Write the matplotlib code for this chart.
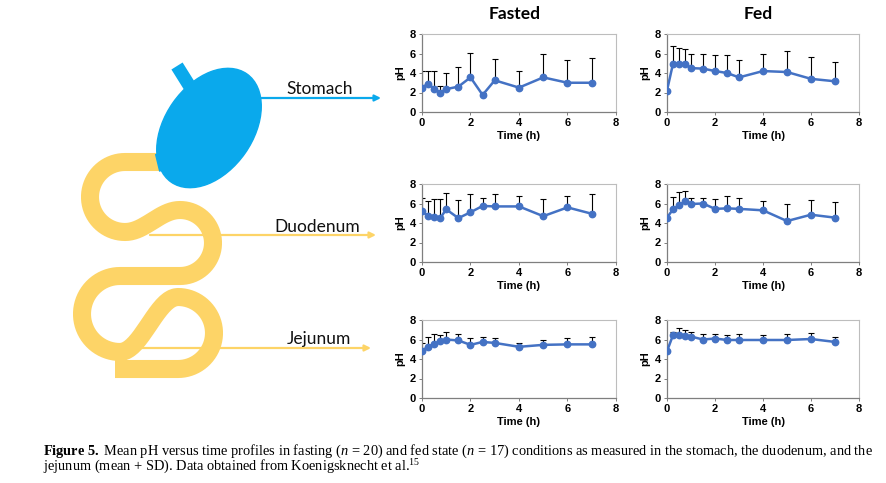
import numpy as np
import matplotlib
matplotlib.use("Agg")
import matplotlib.pyplot as plt
from matplotlib.patches import Ellipse

# sampling times (h)
times = [0, 0.25, 0.5, 0.75, 1, 1.5, 2, 2.5, 3, 4, 5, 6, 7]

# mean pH and SD (upper bar only)
fasted_stomach = [2.5, 2.9, 2.4, 2.0, 2.35, 2.6, 3.55, 1.75, 3.25, 2.5, 3.55, 3.0, 3.0]
fasted_stomach_sd = [1.7, 1.3, 1.8, 0.7, 1.6, 2.05, 2.55, 0.15, 2.15, 1.7, 2.35, 2.3, 2.5]
fed_stomach = [2.2, 4.95, 4.95, 4.95, 4.5, 4.45, 4.2, 4.0, 3.55, 4.2, 4.1, 3.4, 3.15]
fed_stomach_sd = [0, 1.85, 1.65, 1.5, 1.5, 1.5, 1.6, 1.8, 1.75, 1.7, 2.15, 2.2, 2.0]

fasted_duodenum = [5.2, 4.75, 4.65, 4.5, 5.4, 4.5, 5.1, 5.75, 5.7, 5.7, 4.7, 5.6, 4.95]
fasted_duodenum_sd = [1.35, 1.55, 1.8, 1.95, 1.7, 1.85, 1.9, 0.85, 1.3, 1.1, 1.75, 1.2, 2.05]
fed_duodenum = [4.55, 5.4, 5.8, 6.25, 5.95, 6.0, 5.45, 5.5, 5.45, 5.3, 4.2, 4.85, 4.55]
fed_duodenum_sd = [0, 1.3, 1.35, 1.05, 0.65, 0.6, 1.0, 1.25, 1.15, 0.95, 1.75, 1.5, 1.65]

fasted_jejunum = [4.85, 5.25, 5.55, 5.8, 6.0, 5.9, 5.45, 5.75, 5.65, 5.25, 5.45, 5.5, 5.5]
fasted_jejunum_sd = [0.8, 1.05, 1.05, 0.7, 0.8, 0.65, 0.7, 0.5, 0.5, 0.4, 0.45, 0.65, 0.8]
fed_jejunum = [4.8, 6.45, 6.45, 6.35, 6.3, 6.0, 6.1, 5.95, 5.95, 5.95, 5.95, 6.05, 5.75]
fed_jejunum_sd = [0, 0.3, 0.75, 0.6, 0.45, 0.6, 0.5, 0.5, 0.65, 0.5, 0.65, 0.65, 0.55]

segments = ["Stomach", "Duodenum", "Jejunum"]
columns = ["Fasted", "Fed"]
panels = [
    [(fasted_stomach, fasted_stomach_sd), (fed_stomach, fed_stomach_sd)],
    [(fasted_duodenum, fasted_duodenum_sd), (fed_duodenum, fed_duodenum_sd)],
    [(fasted_jejunum, fasted_jejunum_sd), (fed_jejunum, fed_jejunum_sd)],
]

W, H = 887, 483
fig = plt.figure(figsize=(W / 100, H / 100), dpi=100)

BLUE = "#0aa9ec"
YELLOW = "#fdd467"
LINE = "#4472c4"

# ---- illustration (pixel coordinates, y pointing down) ----
art = fig.add_axes([0, 0, 1, 1])
art.set_xlim(0, W)
art.set_ylim(H, 0)
art.axis("off")


def arc(cx, cy, r, a0, a1, n=40):
    t = np.radians(np.linspace(a0, a1, n))
    return np.c_[cx + r * np.cos(t), cy + r * np.sin(t)]


def s_bend(p0, p1, n=20):
    s = np.linspace(0, 1, n)
    k = (1 - np.cos(np.pi * s)) / 2
    return np.c_[p0[0] + (p1[0] - p0[0]) * s, p0[1] + (p1[1] - p0[1]) * k]


gut = np.vstack([
    [[160, 162]],
    arc(125, 197, 35, -90, -270),
    s_bend((125, 232), (180, 210)),
    arc(180, 243, 33, -90, 90),
    arc(120, 314, 38, -90, -270),
    s_bend((120, 352), (178, 297)),
    arc(178, 333, 36, -90, 90),
    [[115, 369]],
])
art.plot(gut[:, 0], gut[:, 1], color=YELLOW, lw=13, solid_capstyle="butt",
         solid_joinstyle="round", zorder=1)

art.add_patch(Ellipse((209, 128), 132, 88, angle=-55, color=BLUE, zorder=3))
art.plot([157, 186], [163, 156], color=BLUE, lw=13, solid_capstyle="butt", zorder=2)
art.plot([177, 197], [66, 98], color=BLUE, lw=9.5, solid_capstyle="butt", zorder=2)

arrows = [(BLUE, 257, 98, 381), (YELLOW, 150, 235, 376), (YELLOW, 127, 348, 371)]
for col, x0, y, x1 in arrows:
    art.annotate("", xy=(x1, y), xytext=(x0, y),
                 arrowprops=dict(arrowstyle="-|>", color=col, lw=1.6,
                                 mutation_scale=9, shrinkA=0, shrinkB=0),
                 zorder=4)

label_pos = [(320, 89), (317, 227), (319, 339)]
for name, (x, y) in zip(segments, label_pos):
    art.text(x, y, name, ha="center", va="center", fontsize=12.5,
             family="Lato", color="#111111", zorder=5)

# ---- column titles ----
for name, x in zip(columns, [515, 758]):
    fig.text(x / W, 1 - 14 / H, name, ha="center", va="center", fontsize=12.5,
             family="Lato", fontweight="bold")

# ---- pH panels ----
col_left = [422, 667]
col_width = [194, 192]
row_top = [34, 184, 320]
panel_h = 78

for r, row in enumerate(panels):
    for c, (mean, sd) in enumerate(row):
        ax = fig.add_axes([col_left[c] / W, 1 - (row_top[r] + panel_h) / H,
                           col_width[c] / W, panel_h / H])
        ax.errorbar(times, mean, yerr=[np.zeros(len(sd)), sd], fmt="none",
                    ecolor="black", elinewidth=0.8, capsize=2.5, capthick=0.8,
                    zorder=2)
        ax.plot(times, mean, color=LINE, lw=1.8, marker="o", markersize=4.6,
                zorder=3)
        ax.set_xlim(0, 8)
        ax.set_ylim(0, 8)
        ax.set_xticks([0, 2, 4, 6, 8])
        ax.set_yticks([0, 2, 4, 6, 8])
        for side in ["top", "right"]:
            ax.spines[side].set_color("#bdbdbd")
            ax.spines[side].set_linewidth(0.8)
        for side in ["left", "bottom"]:
            ax.spines[side].set_color("#7f7f7f")
            ax.spines[side].set_linewidth(0.9)
        ax.tick_params(length=2.5, width=0.7, color="#7f7f7f", pad=2,
                       labelsize=8)
        for lab in ax.get_xticklabels() + ax.get_yticklabels():
            lab.set_fontweight("bold")
            lab.set_family("Liberation Sans")
        ax.set_xlabel("Time (h)", fontsize=8, fontweight="bold",
                      family="Liberation Sans", labelpad=2)
        ax.set_ylabel("pH", fontsize=8, fontweight="bold",
                      family="Liberation Sans", labelpad=3)

# ---- caption ----
plt.rcParams["mathtext.fontset"] = "custom"
plt.rcParams["mathtext.rm"] = "Liberation Serif"
plt.rcParams["mathtext.it"] = "Liberation Serif:italic"
plt.rcParams["mathtext.bf"] = "Liberation Serif:bold"

line1 = (r"$\mathbf{Figure\ 5.}$ Mean pH versus time profiles in fasting ($\it{n}$ = 20) "
         r"and fed state ($\it{n}$ = 17) conditions as measured in the stomach, "
         r"the duodenum, and the")
line2 = r"jejunum (mean + SD). Data obtained from Koenigsknecht et al.$^{15}$"
t1 = fig.text(43 / W, 1 - 451 / H, line1, ha="left", va="center", fontsize=9,
              family="Liberation Serif")
t2 = fig.text(43 / W, 1 - 467 / H, line2, ha="left", va="center", fontsize=9,
              family="Liberation Serif")
fig.canvas.draw()
w1 = t1.get_window_extent().width
fs = 9 * 828 / w1
t1.set_fontsize(fs)
t2.set_fontsize(fs)

fig.savefig("out.png", dpi=100)
